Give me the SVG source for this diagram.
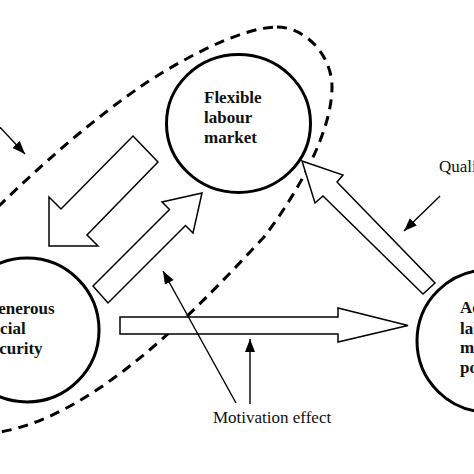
<svg xmlns="http://www.w3.org/2000/svg" width="474" height="474" viewBox="0 0 474 474">
<style>
.node{fill:#fff;stroke:#000;stroke-width:3}
.nt{font-family:"Liberation Serif","Times New Roman",serif;font-weight:bold;font-size:17px;fill:#111}
.lbl{font-family:"Liberation Serif","Times New Roman",serif;font-size:17px;fill:#111}
.big{fill:#fff;stroke:#000;stroke-width:1.5;stroke-linejoin:miter}
.thin{stroke:#000;stroke-width:1.4;fill:none}
.dash{fill:none;stroke:#000;stroke-width:3;stroke-dasharray:10 7}
</style>
<defs>
<marker id="ah" markerUnits="userSpaceOnUse" markerWidth="14" markerHeight="12" refX="13" refY="5" orient="auto">
<path d="M0,0 L13,5 L0,10 z" fill="#000"/>
</marker>
</defs>
<rect width="474" height="474" fill="#fff"/>
<path id="cluster" class="dash" d="M277,27 C305,27 332,55 332,87 C332,130 300,190 264,237 C205,300 100,415 0,432 C-50,449 -90,440 -90,370 C-90,300 -40,245 0,205 C45,161 95,118 140,87 C175,63 240,27 277,27 Z"/>
<g id="n-flex">
<ellipse class="node" cx="238.5" cy="123.5" rx="72" ry="69"/>
<text class="nt" x="204" y="103">Flexible</text>
<text class="nt" x="204" y="123">labour</text>
<text class="nt" x="204" y="143">market</text>
</g>
<g id="n-security">
<ellipse class="node" cx="27" cy="330" rx="72" ry="72"/>
<text class="nt" x="-15" y="314">Generous</text>
<text class="nt" x="-15" y="334">social</text>
<text class="nt" x="-15" y="354">security</text>
</g>
<g id="n-alm">
<ellipse class="node" cx="488" cy="341" rx="71" ry="71"/>
<text class="nt" x="460" y="313">Active</text>
<text class="nt" x="460" y="334">labour</text>
<text class="nt" x="460" y="353">market</text>
<text class="nt" x="460" y="373">policy</text>
</g>
<g id="connectors">
<polygon class="big" points="133,136 158,162 87,235 98,246 49,246 49,197 61,209"/>
<polygon class="big" points="93,286 169.5,209.5 162,202 202,193 193,233 185.5,225.5 108,303"/>
<polygon class="big" points="120,317 338,317 338,308 408,325.5 338,342 338,334 120,334"/>
<polygon class="big" points="302,161 343,175 337,182 435,283 423,294 323,196 315,203"/>
<line class="thin" x1="-5" y1="122" x2="25" y2="154" marker-end="url(#ah)"/>
<line class="thin" x1="440" y1="196" x2="404" y2="231" marker-end="url(#ah)"/>
<line class="thin" x1="250" y1="404" x2="250" y2="339" marker-end="url(#ah)"/>
<line class="thin" x1="236" y1="403" x2="163" y2="271" marker-end="url(#ah)"/>
</g>
<text class="lbl" x="213" y="423">Motivation effect</text>
<text class="lbl" x="439" y="172">Qualification effect</text>
</svg>
